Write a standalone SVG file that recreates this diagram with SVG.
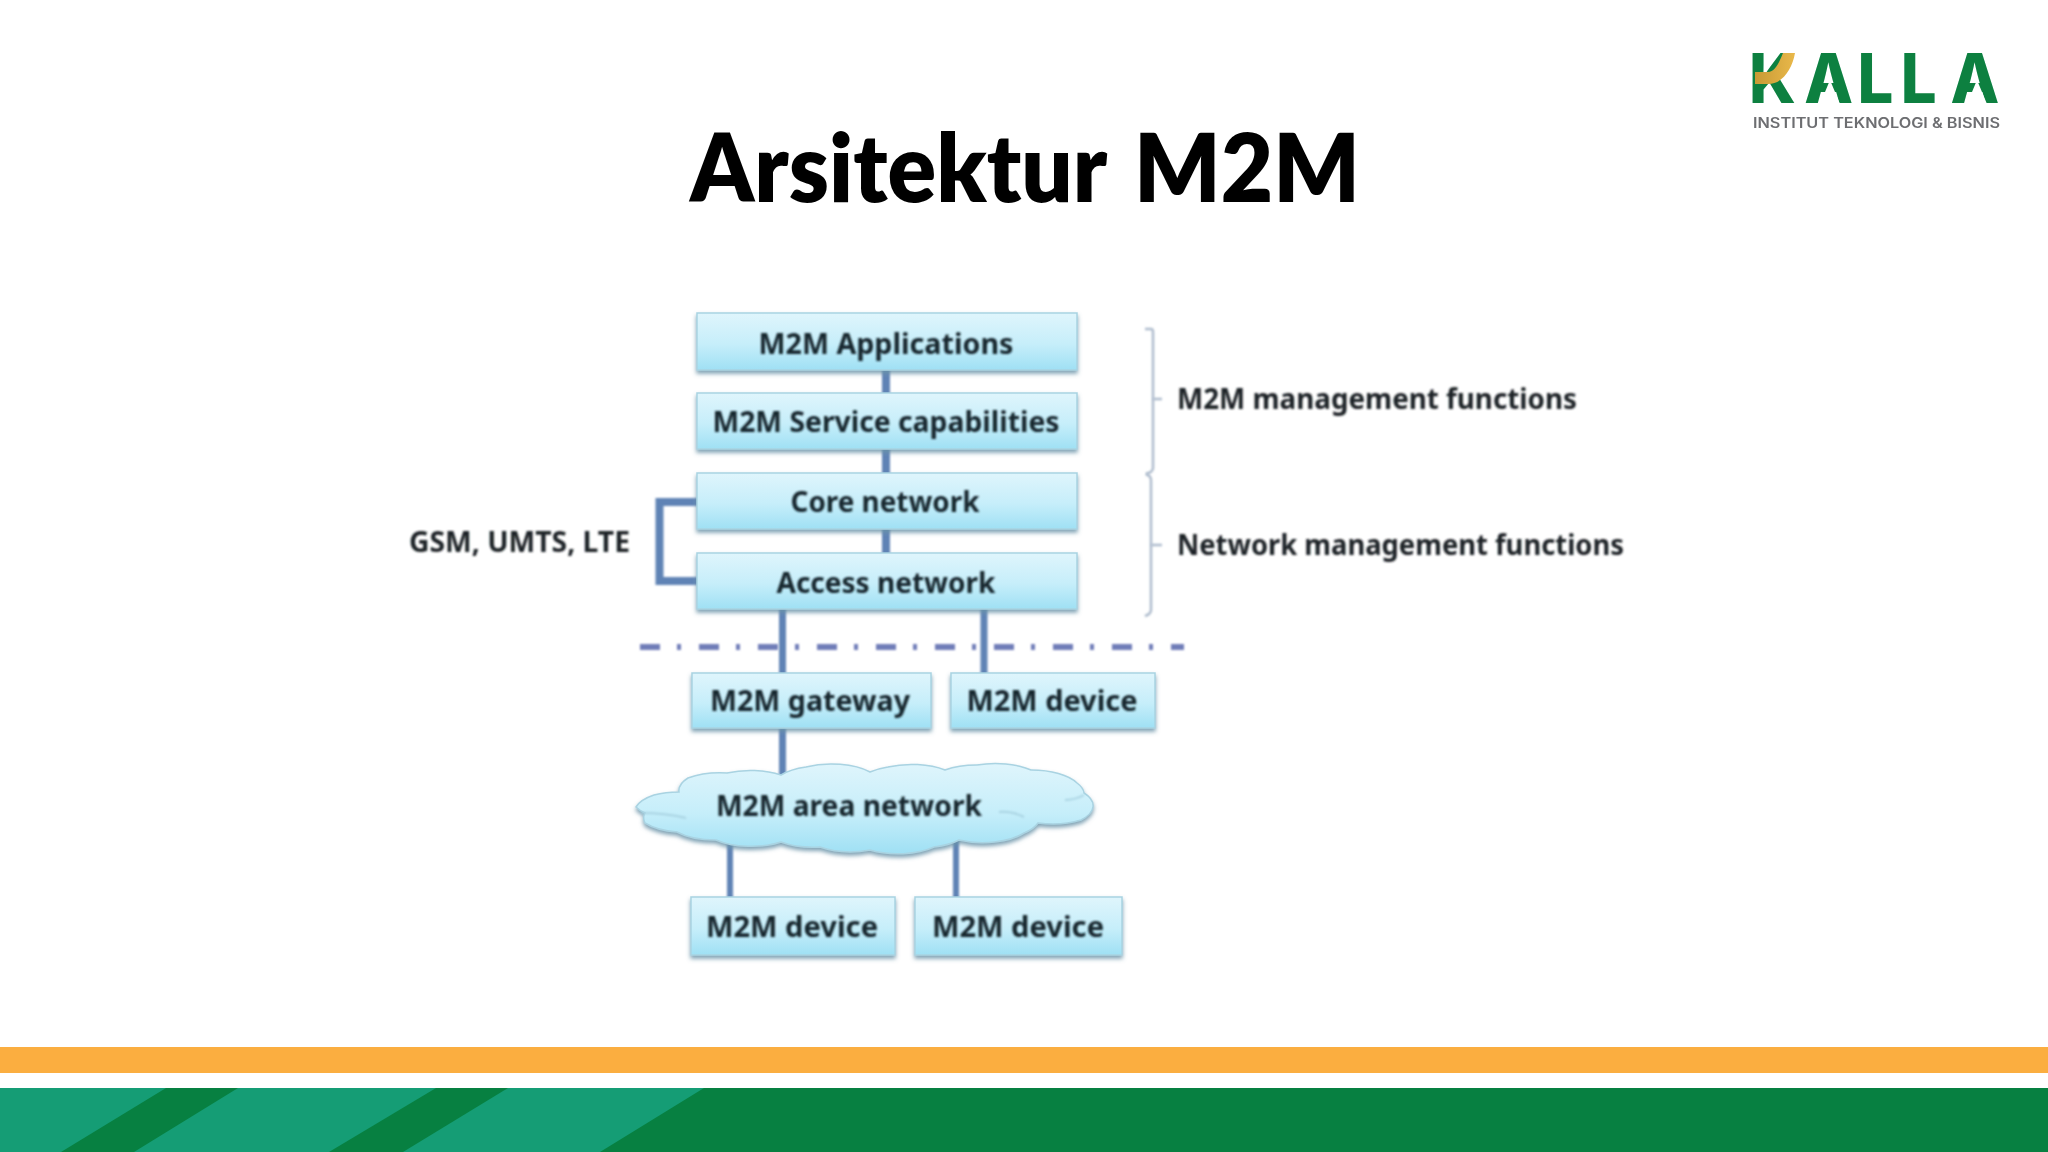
<svg xmlns="http://www.w3.org/2000/svg" width="2048" height="1152" viewBox="0 0 2048 1152">
<defs>
<linearGradient id="bx" x1="0" y1="0" x2="0" y2="1"><stop offset="0" stop-color="#dff5fc"/><stop offset="0.55" stop-color="#c6eefa"/><stop offset="1" stop-color="#9fe0f4"/></linearGradient>
<linearGradient id="gold" x1="0" y1="0" x2="1" y2="0"><stop offset="0" stop-color="#c89a35"/><stop offset="1" stop-color="#e9b84a"/></linearGradient>
<filter id="b1" x="-5%" y="-20%" width="110%" height="140%"><feGaussianBlur stdDeviation="0.9"/></filter>
<filter id="b2" x="-5%" y="-20%" width="110%" height="140%"><feGaussianBlur stdDeviation="0.5"/></filter>
<filter id="bl" filterUnits="userSpaceOnUse" x="0" y="0" width="2048" height="1152"><feGaussianBlur stdDeviation="0.9"/></filter>
<filter id="drop" x="-5%" y="-10%" width="110%" height="125%"><feDropShadow dx="0" dy="3" stdDeviation="2" flood-color="#6a93a8" flood-opacity="0.85"/><feGaussianBlur stdDeviation="0.7"/></filter>
</defs>
<style>
.box{fill:url(#bx);stroke:#a9d3e2;stroke-width:1.5;filter:url(#drop)}
.t{font-family:"Noto Sans","Liberation Sans",sans-serif;font-weight:700;font-size:29px;fill:#16262e;text-anchor:middle;filter:url(#b1)}
.s{font-family:"Noto Sans","Liberation Sans",sans-serif;font-weight:700;font-size:28px;fill:#1f2326;filter:url(#b1)}
.c{stroke:#5f83b5;stroke-width:8;fill:none;filter:url(#bl)}
.br{stroke:#aebccd;stroke-width:2.5;fill:none;filter:url(#bl)}
.in{stroke:#a9d3e2;stroke-width:2;fill:none;filter:url(#bl)}
</style>
<rect width="2048" height="1152" fill="#ffffff"/>
<g id="footer">
<rect x="0" y="1047" width="2048" height="26" fill="#fbae40"/>
<rect x="0" y="1088" width="2048" height="64" fill="#078041"/>
<polygon points="0,1088 166,1088 61,1152 0,1152" fill="#159d75"/>
<polygon points="238,1088 436,1088 329,1152 134,1152" fill="#159d75"/>
<polygon points="508,1088 704,1088 600,1152 403,1152" fill="#159d75"/>
</g>
<g id="logo">
<text transform="translate(1749 103) scale(.92 1)" x="0 60 118 165 219" y="0" font-family="Inter,'Liberation Sans',sans-serif" font-weight="800" font-size="69" fill="#0a8041" filter="url(#b2)">KALLA</text>
<path d="M1830 80L1820 104H1840ZM1977 80L1967 104H1987Z" fill="#fff"/>
<path d="M1783 53H1795C1792 70 1782 84 1768 84H1755V72H1768C1775 72 1779 63 1783 53Z" fill="url(#gold)"/>
<text x="1753" y="128" font-family="Inter,'Liberation Sans',sans-serif" font-weight="600" font-size="14" fill="#6d6e71" textLength="247" lengthAdjust="spacingAndGlyphs" filter="url(#b2)">INSTITUT TEKNOLOGI &amp; BISNIS</text>
</g>
<text id="title" x="690" y="202" font-family="Lato,'Noto Sans',sans-serif" font-weight="800" font-size="95" fill="#000" word-spacing="8" textLength="670" lengthAdjust="spacingAndGlyphs">Arsitektur M2M</text>
<g id="connectors">
<path class="c" d="M886 368V396M886 448V476M886 528V556"/>
<path class="c" d="M700 502H659.500V581H700"/>
<path class="c" d="M782.500 608V676M984 608V676" style="stroke-width:7"/>
<path class="c" d="M782.500 728V778" style="stroke-width:7"/>
<path class="c" d="M730 835V900M956 835V900" style="stroke-width:6"/>
<path d="M640 647H1184" stroke="#6f7db8" stroke-width="6" fill="none" stroke-dasharray="20 17 4 18" filter="url(#bl)"/>
</g>
<g id="brackets">
<path class="br" d="M1145 329H1151Q1153 329 1153 332V468Q1153 472 1146 474"/>
<path class="br" d="M1146 474Q1151 476 1151 480V610Q1151 614 1145 616"/>
<path class="br" d="M1153 399H1162M1151 545H1162"/>
</g>
<g id="n1"><rect class="box" x="697" y="313" width="380" height="57"/><text class="t" x="886" y="354" textLength="255" lengthAdjust="spacingAndGlyphs">M2M Applications</text></g>
<g id="n2"><rect class="box" x="697" y="393" width="380" height="56"/><text class="t" x="886" y="432" textLength="347" lengthAdjust="spacingAndGlyphs">M2M Service capabilities</text></g>
<g id="n3"><rect class="box" x="697" y="473" width="380" height="56"/><text class="t" x="885" y="512" textLength="189" lengthAdjust="spacingAndGlyphs">Core network</text></g>
<g id="n4"><rect class="box" x="697" y="553" width="380" height="56"/><text class="t" x="886" y="593" textLength="219" lengthAdjust="spacingAndGlyphs">Access network</text></g>
<g id="n5"><rect class="box" x="692" y="673" width="239" height="55"/><text class="t" x="810" y="711" textLength="200" lengthAdjust="spacingAndGlyphs">M2M gateway</text></g>
<g id="n6"><rect class="box" x="951" y="673" width="204" height="55"/><text class="t" x="1052" y="711" textLength="171" lengthAdjust="spacingAndGlyphs">M2M device</text></g>
<g id="n7"><path class="box" d="M636 807A50 22 0 0 1 654 795A50 22 0 0 1 679 792A50 22 0 0 1 688 778A50 22 0 0 1 727 773A50 22 0 0 1 781 775A50 22 0 0 1 806 767A50 22 0 0 1 870 772A50 22 0 0 1 888 767A50 22 0 0 1 945 770A50 22 0 0 1 977 765A50 22 0 0 1 1031 770A50 22 0 0 1 1077 783A50 22 0 0 1 1084 793A50 22 0 0 1 1093 807A50 22 0 0 1 1081 820A50 22 0 0 1 1038 823A50 22 0 0 1 1024 833A50 22 0 0 1 959 840A50 22 0 0 1 934 847A50 22 0 0 1 870 850A50 22 0 0 1 820 847A50 22 0 0 1 781 842A50 22 0 0 1 716 840A50 22 0 0 1 677 832A50 22 0 0 1 645 823A50 22 0 0 1 645 813A50 22 0 0 1 636 807Z"/><path class="in" d="M999 812Q1012 811 1024 817M1065 800Q1075 800 1084 795M641 813Q665 813 686 818"/><text class="t" x="849" y="816" textLength="266" lengthAdjust="spacingAndGlyphs">M2M area network</text></g>
<g id="n8"><rect class="box" x="691" y="897" width="204" height="58"/><text class="t" x="792" y="937" textLength="172" lengthAdjust="spacingAndGlyphs">M2M device</text></g>
<g id="n9"><rect class="box" x="915" y="897" width="207" height="58"/><text class="t" x="1018" y="937" textLength="172" lengthAdjust="spacingAndGlyphs">M2M device</text></g>
<text id="l1" class="s" x="409" y="552" textLength="221" lengthAdjust="spacingAndGlyphs">GSM, UMTS, LTE</text>
<text id="l2" class="s" x="1177" y="409" textLength="400" lengthAdjust="spacingAndGlyphs">M2M management functions</text>
<text id="l3" class="s" x="1177" y="555" textLength="447" lengthAdjust="spacingAndGlyphs">Network management functions</text>
</svg>
